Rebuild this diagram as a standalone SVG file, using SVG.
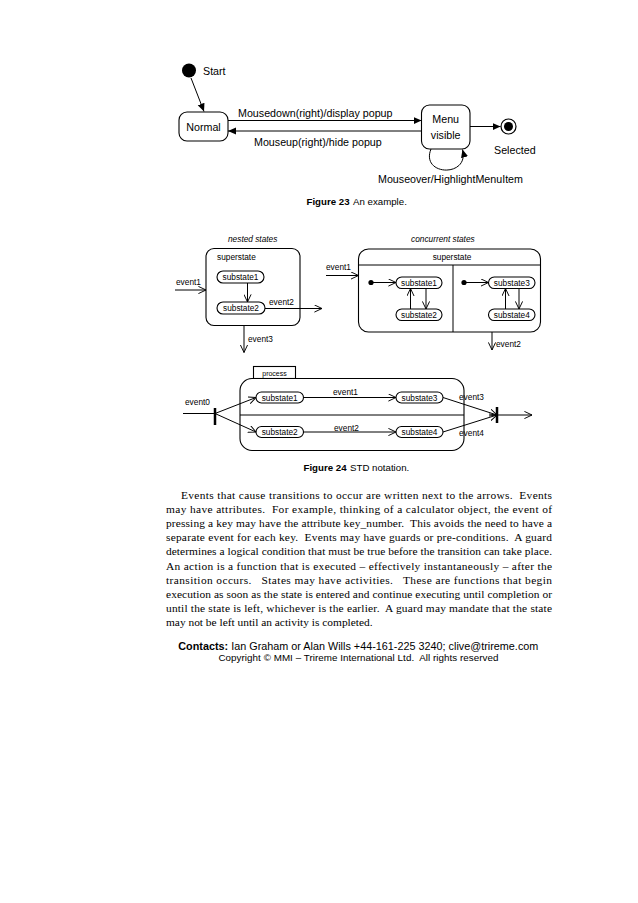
<svg xmlns="http://www.w3.org/2000/svg" width="638" height="903" viewBox="0 0 638 903">
<defs>
<style>
.b{fill:#fff;stroke:#000;stroke-width:1.1}
.ln{fill:none;stroke:#000;stroke-width:1}
.t{font-family:"Liberation Sans",Arial,sans-serif;fill:#000}
.f1{font-size:10.7px}
.f2{font-size:8.3px}
.f3{font-size:7px}
.i{font-style:italic}
.c{text-anchor:middle}
.p{font-family:"Liberation Serif","Times New Roman",serif;font-size:11.4px;fill:#000;white-space:pre}
.pre{white-space:pre}
</style>
<marker id="fa" viewBox="0 0 10 10" refX="10" refY="5" markerWidth="8" markerHeight="8" markerUnits="userSpaceOnUse" orient="auto"><path d="M0,0.5 L10,5 L0,9.5 z" fill="#000"/></marker>
<marker id="oa" viewBox="0 0 10 10" refX="9.5" refY="5" markerWidth="8" markerHeight="8" markerUnits="userSpaceOnUse" orient="auto"><path d="M0,0.5 L9.5,5 L0,9.5" fill="none" stroke="#000" stroke-width="1.2"/></marker>
</defs>
<rect width="638" height="903" fill="#fff"/>

<!-- Figure 23 nodes -->
<g id="start"><circle cx="189" cy="70.5" r="7" fill="#000"/><text class="t f1" x="203" y="75">Start</text></g>
<g id="normal"><rect class="b" x="179" y="112" width="49" height="29" rx="8"/><text class="t f1 c" x="203.5" y="130.5">Normal</text></g>
<g id="menu"><rect class="b" x="421.5" y="105" width="48.5" height="44" rx="8"/><text class="t f1 c" x="445.7" y="122.5">Menu</text><text class="t f1 c" x="445.7" y="138.5">visible</text></g>
<g id="final"><circle cx="508.5" cy="126.5" r="7.5" fill="#fff" stroke="#000" stroke-width="1.2"/><circle cx="508.5" cy="126.5" r="4.5" fill="#000"/><text class="t f1" x="494" y="154">Selected</text></g>

<!-- Figure 24 nodes -->
<g id="nested">
<text class="t f2 i" x="228" y="242">nested states</text>
<rect class="b" x="206" y="248.5" width="94" height="77" rx="8"/>
<text class="t f2" x="217" y="259.5">superstate</text>
</g>
<g id="n-sub1"><rect class="b" x="217" y="271" width="47" height="12" rx="6"/><text class="t f2 c" x="240.5" y="280">substate1</text></g>
<g id="n-sub2"><rect class="b" x="217" y="302" width="48" height="12" rx="6"/><text class="t f2 c" x="241" y="311">substate2</text></g>

<g id="concurrent">
<text class="t f2 i" x="411" y="242">concurrent states</text>
<rect class="b" x="358.5" y="249" width="182" height="83" rx="10"/>
<text class="t f2 c" x="452" y="260">superstate</text>
<path class="ln" d="M358.5,265 H540.5 M453,265 V332"/>
<circle cx="371" cy="282.5" r="2.6" fill="#000"/>
<circle cx="464" cy="282.5" r="2.6" fill="#000"/>
</g>
<g id="c-sub1"><rect class="b" x="396" y="277" width="46" height="11.5" rx="5.75"/><text class="t f2 c" x="419" y="285.8">substate1</text></g>
<g id="c-sub2"><rect class="b" x="396" y="309" width="46" height="11.5" rx="5.75"/><text class="t f2 c" x="419" y="317.8">substate2</text></g>
<g id="c-sub3"><rect class="b" x="488.5" y="277" width="46.5" height="11.5" rx="5.75"/><text class="t f2 c" x="511.8" y="285.8">substate3</text></g>
<g id="c-sub4"><rect class="b" x="488.5" y="309" width="46.5" height="11.5" rx="5.75"/><text class="t f2 c" x="511.8" y="317.8">substate4</text></g>

<g id="process">
<rect class="b" x="253.5" y="366.5" width="42" height="12"/>
<text class="t f3 c" x="274.5" y="375.5">process</text>
<rect class="b" x="240" y="378.5" width="224" height="72" rx="12"/>
<path class="ln" d="M240,415 H464"/>
</g>
<g id="p-sub1"><rect class="b" x="256" y="392" width="47.5" height="11" rx="5.5"/><text class="t f2 c" x="279.7" y="400.5">substate1</text></g>
<g id="p-sub2"><rect class="b" x="256" y="426.5" width="47.5" height="11" rx="5.5"/><text class="t f2 c" x="279.7" y="435">substate2</text></g>
<g id="p-sub3"><rect class="b" x="396" y="392" width="47" height="11" rx="5.5"/><text class="t f2 c" x="419.5" y="400.5">substate3</text></g>
<g id="p-sub4"><rect class="b" x="396" y="426.5" width="47" height="11" rx="5.5"/><text class="t f2 c" x="419.5" y="435">substate4</text></g>
<g id="fork"><path d="M215,408 V425" stroke="#000" stroke-width="2.5"/></g>
<g id="join"><path d="M497,407 V423" stroke="#000" stroke-width="2.5"/></g>

<!-- connectors -->
<g id="connectors">
<path class="ln" d="M191,78 L204,111.5" marker-end="url(#fa)"/>
<path class="ln" d="M228,120.5 H421.5" marker-end="url(#fa)"/>
<path class="ln" d="M421.5,131 H228" marker-end="url(#fa)"/>
<path class="ln" d="M470,126.5 H500.5" marker-end="url(#fa)"/>
<path class="ln" d="M431,149 C420,176 470,178 462.5,149.5" marker-end="url(#fa)"/>

<path class="ln" d="M175,290 H206" marker-end="url(#oa)"/>
<path class="ln" d="M247.5,283 V302" marker-end="url(#oa)"/>
<path class="ln" d="M265,308.5 H322" marker-end="url(#oa)"/>
<path class="ln" d="M244,325.5 V352.5" marker-end="url(#oa)"/>

<path class="ln" d="M326,275.5 H358.5" marker-end="url(#oa)"/>
<path class="ln" d="M373,282.5 H396" marker-end="url(#oa)"/>
<path class="ln" d="M410.5,309 V288.5" marker-end="url(#oa)"/>
<path class="ln" d="M426,288.5 V309" marker-end="url(#oa)"/>
<path class="ln" d="M466,282.5 H488.5" marker-end="url(#oa)"/>
<path class="ln" d="M505.5,309 V288.5" marker-end="url(#oa)"/>
<path class="ln" d="M519,288.5 V309" marker-end="url(#oa)"/>
<path class="ln" d="M492,332 V350" marker-end="url(#oa)"/>

<path class="ln" d="M183,413.5 H215"/>
<path class="ln" d="M215,413.5 L256,397.5" marker-end="url(#oa)"/>
<path class="ln" d="M215,413.5 L256,432" marker-end="url(#oa)"/>
<path class="ln" d="M303.5,397.5 H396" marker-end="url(#oa)"/>
<path class="ln" d="M303.5,432 H396" marker-end="url(#oa)"/>
<path class="ln" d="M443,397.5 L497,415" marker-end="url(#oa)"/>
<path class="ln" d="M443,432 L497,415" marker-end="url(#oa)"/>
<path class="ln" d="M497,415 H532" marker-end="url(#oa)"/>

<g class="t f1">
<text x="238" y="116.5">Mousedown(right)/display popup</text>
<text x="254" y="145.5">Mouseup(right)/hide popup</text>
<text x="378" y="182.5">Mouseover/HighlightMenuItem</text>
</g>
<g class="t f2">
<text x="176" y="285">event1</text>
<text x="269" y="305">event2</text>
<text x="248" y="342">event3</text>
<text x="326" y="270">event1</text>
<text x="496" y="347">event2</text>
<text x="185" y="405">event0</text>
<text x="333" y="394.5">event1</text>
<text x="334" y="430.5">event2</text>
<text x="459" y="400">event3</text>
<text x="459" y="436">event4</text>
</g>
</g>

<!-- captions -->
<text class="t" font-size="9.7" x="306.5" y="205"><tspan font-weight="bold">Figure 23</tspan><tspan x="353">An example.</tspan></text>
<text class="t" font-size="9.7" x="303.5" y="471"><tspan font-weight="bold">Figure 24</tspan><tspan x="350">STD notation.</tspan></text>

<!-- body text -->
<g class="p">
<text xml:space="preserve" x="181" y="498.5" textLength="371" lengthAdjust="spacing">Events that cause transitions to occur are written next to the arrows.  Events</text>
<text xml:space="preserve" x="166" y="512.7" textLength="386" lengthAdjust="spacing">may have attributes.  For example, thinking of a calculator object, the event of</text>
<text xml:space="preserve" x="166" y="526.9" textLength="386" lengthAdjust="spacing">pressing a key may have the attribute key_number.  This avoids the need to have a</text>
<text xml:space="preserve" x="166" y="541.1" textLength="386" lengthAdjust="spacing">separate event for each key.  Events may have guards or pre-conditions.  A guard</text>
<text xml:space="preserve" x="166" y="555.3" textLength="386" lengthAdjust="spacing">determines a logical condition that must be true before the transition can take place.</text>
<text xml:space="preserve" x="166" y="569.5" textLength="386" lengthAdjust="spacing">An action is a function that is executed – effectively instantaneously – after the</text>
<text xml:space="preserve" x="166" y="583.7" textLength="386" lengthAdjust="spacing">transition occurs.   States may have activities.   These are functions that begin</text>
<text xml:space="preserve" x="166" y="597.9" textLength="386" lengthAdjust="spacing">execution as soon as the state is entered and continue executing until completion or</text>
<text xml:space="preserve" x="166" y="612.1" textLength="386" lengthAdjust="spacing">until the state is left, whichever is the earlier.  A guard may mandate that the state</text>
<text xml:space="preserve" x="166" y="626.3">may not be left until an activity is completed.</text>
</g>

<text class="t c" font-size="10.8" x="358.3" y="650" textLength="360" lengthAdjust="spacing"><tspan font-weight="bold">Contacts:</tspan> Ian Graham or Alan Wills +44-161-225 3240; clive@trireme.com</text>
<text class="t c pre" font-size="9.8" x="358.5" y="661" textLength="280" lengthAdjust="spacing" xml:space="preserve">Copyright © MMI – Trireme International Ltd.  All rights reserved</text>
</svg>
